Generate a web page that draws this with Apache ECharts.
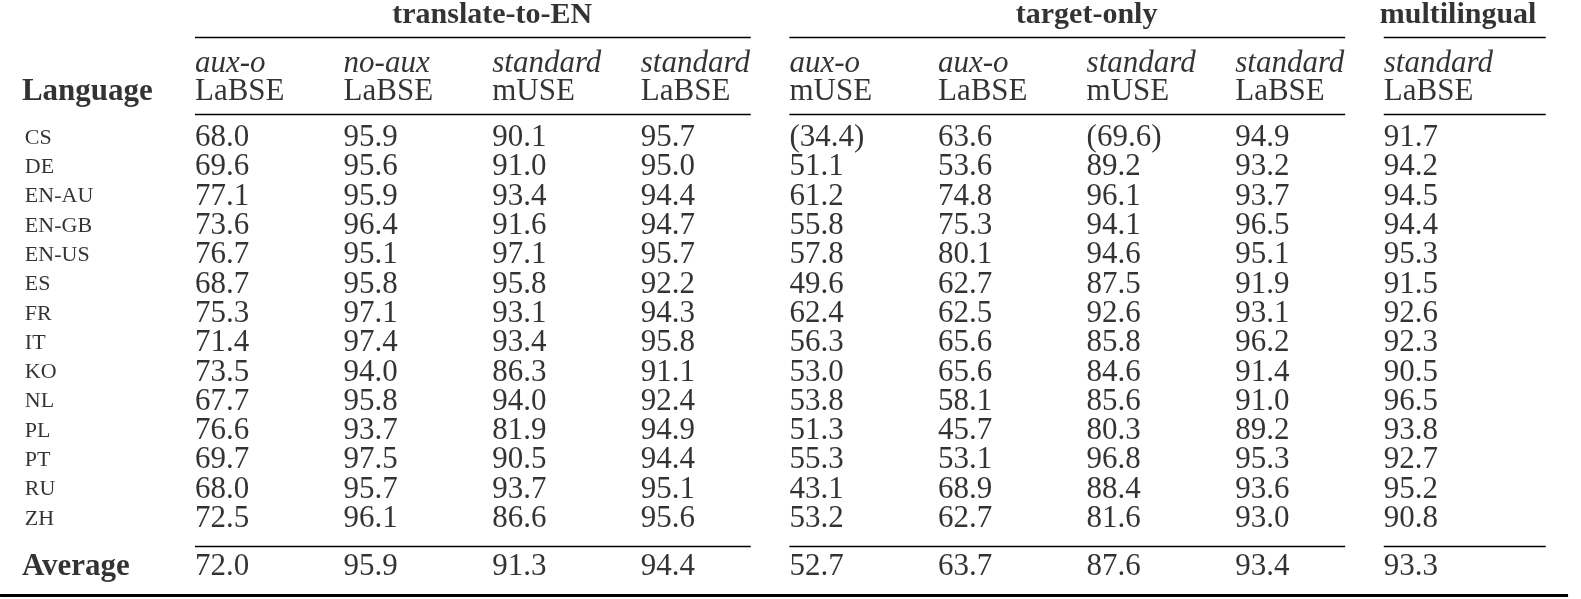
<!DOCTYPE html>
<html><head><meta charset="utf-8">
<script src="https://cdn.jsdelivr.net/npm/echarts@6/dist/echarts.min.js"></script>
<style>html,body{margin:0;background:#fff}#c{width:1581px;height:599px}</style>
</head><body><div id="c"></div>
<script>
const languages=['CS','DE','EN-AU','EN-GB','EN-US','ES','FR','IT','KO','NL','PL','PT','RU','ZH'];
const groups=[['translate-to-EN',0,3],['target-only',4,7],['multilingual',8,8]];
const subTop=['aux-o','no-aux','standard','standard','aux-o','aux-o','standard','standard','standard'];
const subBottom=['LaBSE','LaBSE','mUSE','LaBSE','mUSE','LaBSE','mUSE','LaBSE','LaBSE'];
const values=[
[68.0,95.9,90.1,95.7,34.4,63.6,69.6,94.9,91.7],
[69.6,95.6,91.0,95.0,51.1,53.6,89.2,93.2,94.2],
[77.1,95.9,93.4,94.4,61.2,74.8,96.1,93.7,94.5],
[73.6,96.4,91.6,94.7,55.8,75.3,94.1,96.5,94.4],
[76.7,95.1,97.1,95.7,57.8,80.1,94.6,95.1,95.3],
[68.7,95.8,95.8,92.2,49.6,62.7,87.5,91.9,91.5],
[75.3,97.1,93.1,94.3,62.4,62.5,92.6,93.1,92.6],
[71.4,97.4,93.4,95.8,56.3,65.6,85.8,96.2,92.3],
[73.5,94.0,86.3,91.1,53.0,65.6,84.6,91.4,90.5],
[67.7,95.8,94.0,92.4,53.8,58.1,85.6,91.0,96.5],
[76.6,93.7,81.9,94.9,51.3,45.7,80.3,89.2,93.8],
[69.7,97.5,90.5,94.4,55.3,53.1,96.8,95.3,92.7],
[68.0,95.7,93.7,95.1,43.1,68.9,88.4,93.6,95.2],
[72.5,96.1,86.6,95.6,53.2,62.7,81.6,93.0,90.8]];
const parenthesized=[[0,4],[0,6]];
const averages=[72.0,95.9,91.3,94.4,52.7,63.7,87.6,93.4,93.3];

const F='Liberation Serif';
const AVG=14.64, SUBB=-1.57, SUBT=-2.52, GRP=-4.18, LANGX=-1.165;
const pts=[];
function t(x,y,s,o){pts.push({value:[x,y],label:Object.assign({show:true,formatter:s,position:'inside',align:'left',verticalAlign:'middle',fontFamily:F,fontSize:31,color:'#000'},o||{})});}
groups.forEach(g=>t((g[1]+g[2])/2+0.5,GRP,g[0],{align:'center',fontWeight:'bold',fontSize:30}));
for(let i=0;i<9;i++){t(i,SUBT,subTop[i],{fontStyle:'italic'});t(i,SUBB,subBottom[i]);}
t(LANGX,SUBB,'Language',{fontWeight:'bold',fontSize:31});
languages.forEach((l,r)=>{t(LANGX+0.02,r,l,{fontSize:22,letterSpacing:2.5});
 values[r].forEach((v,i)=>{const p=parenthesized.some(q=>q[0]==r&&q[1]==i);t(i,r,p?'('+v.toFixed(1)+')':v.toFixed(1));});});
t(LANGX,AVG,'Average',{fontWeight:'bold',fontSize:31});
averages.forEach((v,i)=>t(i,AVG,v.toFixed(1)));
const segs=[];
[-3.45,-0.8,13.92].forEach(y=>groups.forEach(g=>segs.push({coords:[[g[1],y],[g[2]+(g[2]==8?1.09:0.74),y]],lineStyle:{width:1.3}})));
segs.push({coords:[[-1.312,15.62],[9.24,15.62]],lineStyle:{width:3}});
const ch=echarts.init(document.getElementById('c'));
ch.setOption({animation:false,
grid:{left:0,right:0,top:0,bottom:0},
xAxis:{type:'value',min:-195/148.6,max:(1581-195)/148.6,show:false},
yAxis:{type:'value',inverse:true,min:-138/29.3,max:(599-138)/29.3,show:false},
series:[{type:'scatter',symbolSize:0,data:pts},
{type:'lines',coordinateSystem:'cartesian2d',lineStyle:{color:'#000',opacity:1},data:segs}]});
</script></body></html>
